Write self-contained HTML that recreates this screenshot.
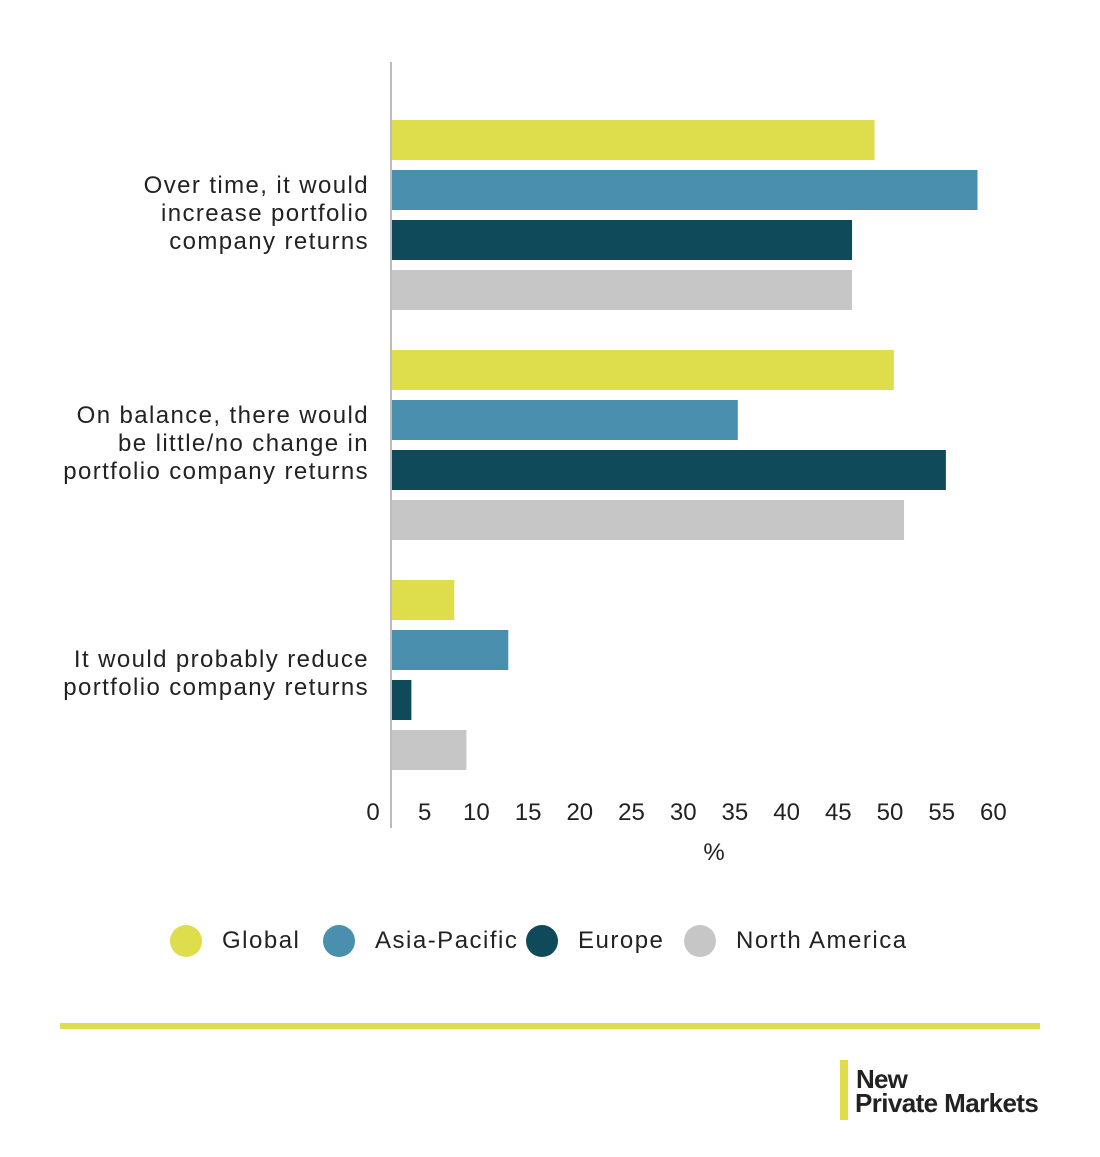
<!DOCTYPE html>
<html><head><meta charset="utf-8"><style>
body{margin:0;background:#fff;font-family:"Liberation Sans",sans-serif;}
svg text{font-family:"Liberation Sans",sans-serif;fill:#222;}
</style></head><body>
<svg width="1100" height="1152" viewBox="0 0 1100 1152">
<g id="bars"></g>
<line x1="391" y1="62" x2="391" y2="828" stroke="#bbb" stroke-width="2"/>
<g id="cats"></g>
<g id="ticks"></g>
<text x="714" y="860" font-size="24" text-anchor="middle">%</text>
<g id="legend"></g>
<rect x="60" y="1023" width="980" height="6" fill="#dedd4b"/>
<g>
<rect x="840" y="1060" width="8" height="60" fill="#dedd4b"/>
<text x="856" y="1088" font-size="26" font-weight="bold" letter-spacing="-0.8" fill="#111">New</text>
<text x="855" y="1112" font-size="26" font-weight="bold" letter-spacing="-0.6" fill="#111">Private Markets</text>
</g>
</svg>
<script>
const categories=[["Over time, it would","increase portfolio","company returns"],["On balance, there would","be little/no change in","portfolio company returns"],["It would probably reduce","portfolio company returns"]];
const seriesNames=["Global","Asia-Pacific","Europe","North America"];
const globalVals=[47.4,49.3,6.2];
const asiaVals=[57.5,34,11.5];
const europeVals=[45.2,54.4,2];
const naVals=[45.2,50.3,7.4];
const tickLabels=["0","5","10","15","20","25","30","35","40","45","50","55","60"];
const colors=["#dedd4b","#4a8fad","#0f4a5a","#c6c6c6"];
const series=[globalVals,asiaVals,europeVals,naVals];
const NS="http://www.w3.org/2000/svg";
const x=v=>391+v*10.2;
const groupY=i=>120+i*230;
function mk(t,a,p){const e=document.createElementNS(NS,t);for(const k in a)e.setAttribute(k,a[k]);p.appendChild(e);return e;}
const bars=document.getElementById('bars');
categories.forEach((c,i)=>{series.forEach((s,j)=>{
 const r=mk('rect',{x:391,y:groupY(i)+j*50,width:x(s[i])-391,height:40,fill:colors[j]},bars);
 
 
});
 const g=document.getElementById('cats');
 const mid=groupY(i)+93, n=c.length;
 c.forEach((line,k)=>{
  const t=mk('text',{x:369,y:mid+(k-(n-1)/2)*28+8,'font-size':24,'text-anchor':'end','letter-spacing':1.4},g);
  t.textContent=line;
  
  
 });
});
const tg=document.getElementById('ticks');
tickLabels.forEach((l,i)=>{
 const t=mk('text',{x:373+i*51.7,y:820,'font-size':24,'text-anchor':'middle'},tg);
 t.textContent=l;
 
 
});
const lg=document.getElementById('legend');
const lx=[186,339,542,700];
seriesNames.forEach((n,i)=>{
 const c=mk('circle',{cx:lx[i],cy:941,r:16,fill:colors[i]},lg);
 
 
 const t=mk('text',{x:lx[i]+36,y:948,'font-size':24,'letter-spacing':1.5},lg);
 t.textContent=n;
 
 
});
</script>
</body></html>
